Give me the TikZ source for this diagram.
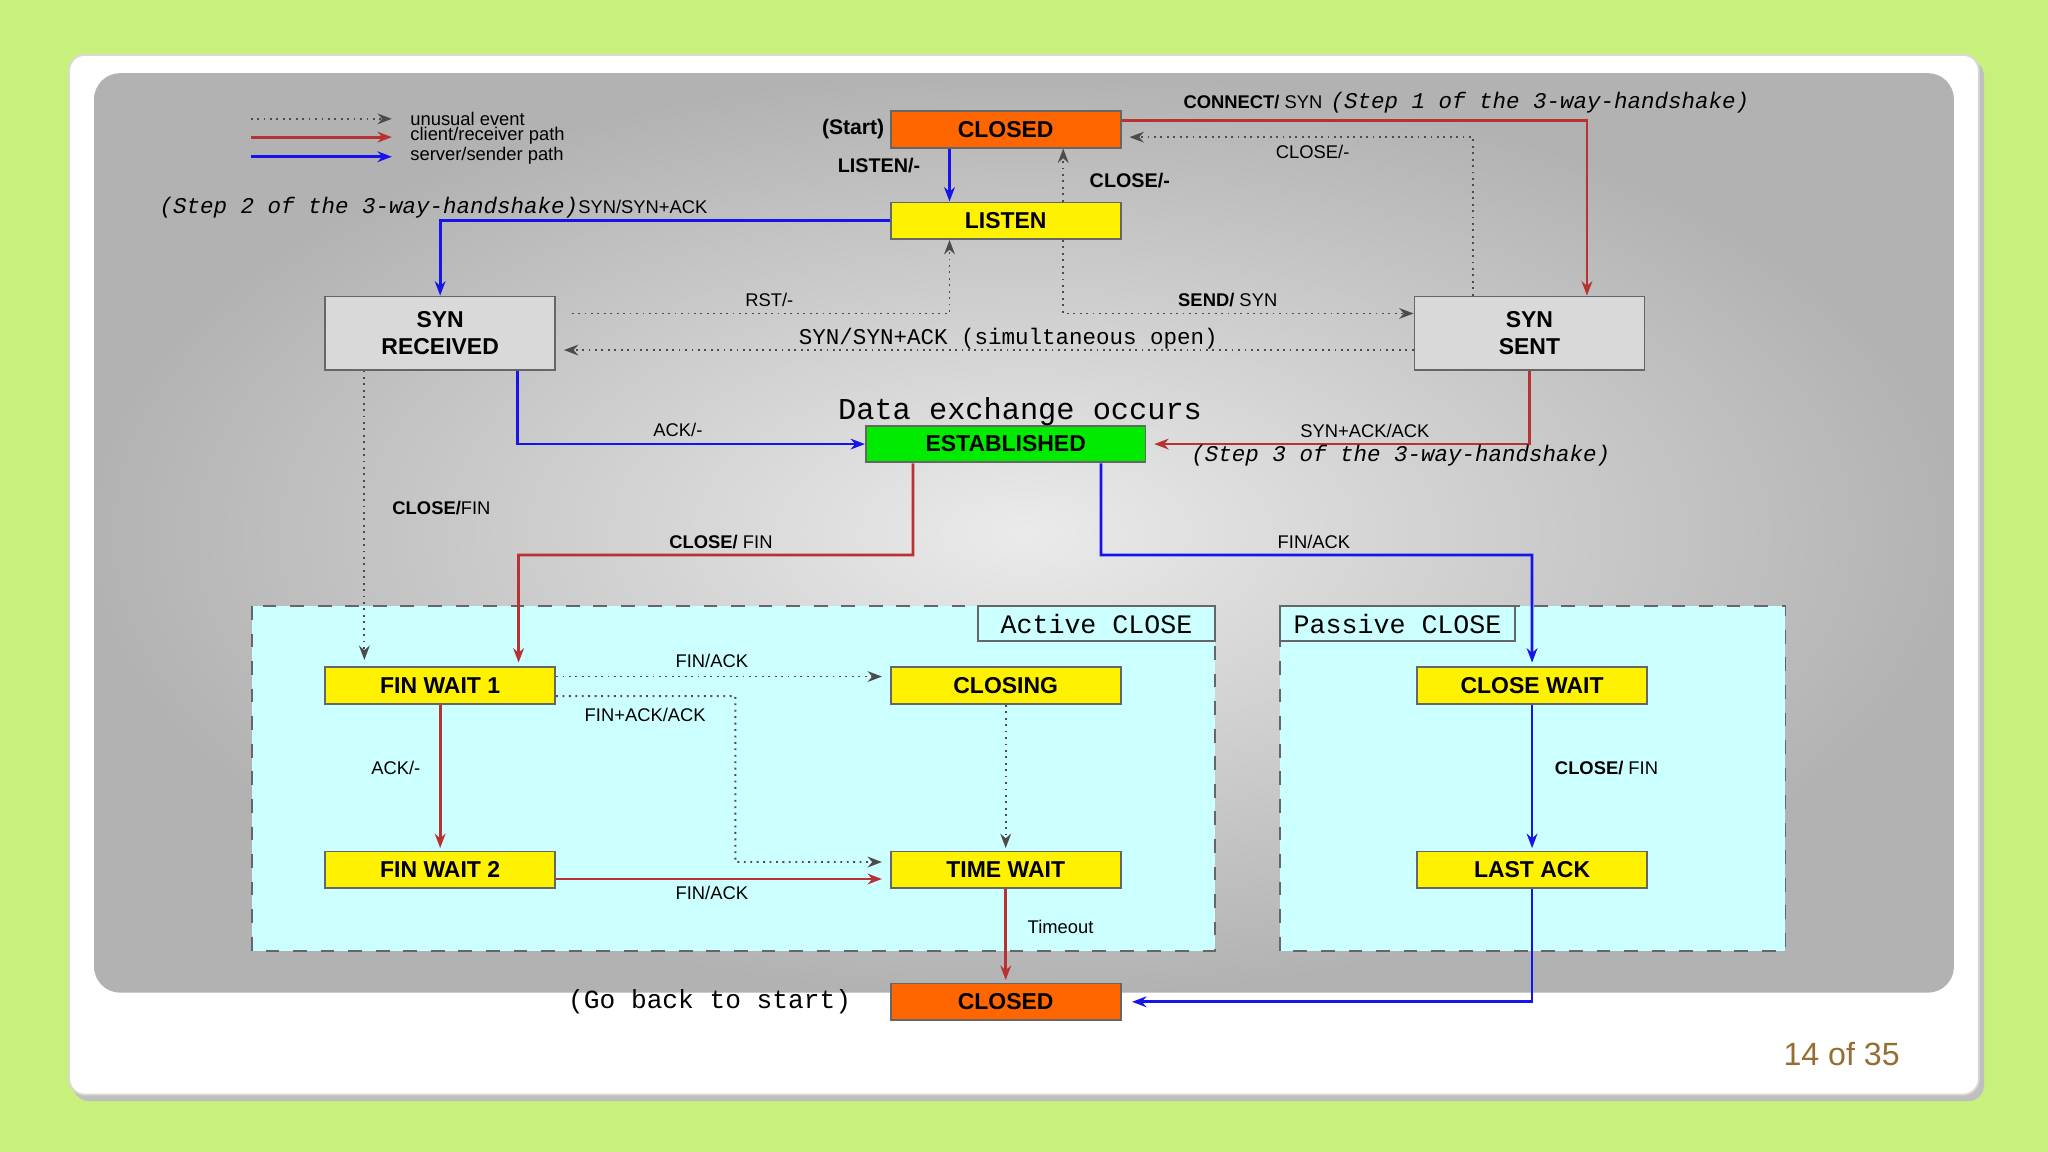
\documentclass[tikz,border=0pt]{standalone}
\usepackage{fontspec}
\setmainfont{Liberation Sans}
\newfontfamily\monof{Liberation Mono}
\usetikzlibrary{arrows.meta}
\definecolor{bggreen}{RGB}{200,240,124}
\definecolor{tcporange}{RGB}{255,102,0}
\definecolor{tcpgreen}{RGB}{0,235,0}
\definecolor{tcpred}{RGB}{185,50,50}
\definecolor{tcpblue}{RGB}{20,20,235}
\definecolor{boxcyan}{RGB}{204,255,255}
\definecolor{pagenum}{RGB}{150,110,50}
\tikzset{
  state/.style={draw=black!60, minimum width=1.76cm, minimum height=0.28cm, inner sep=0pt,
    font=\fontsize{5}{6}\selectfont\bfseries},
  lbl/.style={font=\fontsize{4}{5}\selectfont, inner sep=1pt},
  stepnote/.style={font=\fontsize{4.9}{5}\selectfont\monof\itshape, inner sep=1pt},
  unusual/.style={densely dotted, black!70, -{Stealth[length=1.1mm]}},
  client/.style={tcpred, semithick, -{Stealth[length=1.1mm]}},
  server/.style={tcpblue, semithick, -{Stealth[length=1.1mm]}}
}
\begin{document}
\begin{tikzpicture}[x=0.01cm, y=-0.01cm]
\useasboundingbox (0,0) rectangle (1568,882);
\fill[bggreen] (0,0) rectangle (1568,882);
% slide card
\fill[black!25, rounded corners=0.12cm] (56,46) rectangle (1519,843);
\fill[white, draw=black!15, rounded corners=0.12cm] (53,42) rectangle (1515,838);
\shade[rounded corners=0.2cm, inner color=white!92!black, outer color=black!30] (72,56) rectangle (1496,760);
\node[font=\fontsize{7}{8}\selectfont, text=pagenum] at (1410,807) {14 of 35};
% legend
\draw[unusual] (192,91) -- (300,91);
\draw[client] (192,105) -- (300,105);
\draw[server] (192,120) -- (300,120);
\node[lbl, anchor=west] at (310,91) {unusual event};
\node[lbl, anchor=west] at (310,104) {client/receiver path};
\node[lbl, anchor=west] at (310,119) {server/sender path};
% close regions
\fill[boxcyan] (193,464) rectangle (930,728);
\draw[dashed, black!60] (193,464) rectangle (930,728);
\fill[boxcyan] (980,464) rectangle (1367,728);
\draw[dashed, black!60] (980,464) rectangle (1367,728);
\node[draw=black!60, fill=boxcyan, minimum width=1.81cm, minimum height=0.27cm, inner sep=0pt,
  font=\fontsize{5.8}{6}\selectfont\monof] (actv) at (839.5,477.5) {Active CLOSE};
\node[draw=black!60, fill=boxcyan, minimum width=1.80cm, minimum height=0.27cm, inner sep=0pt,
  font=\fontsize{5.8}{6}\selectfont\monof] (pasv) at (1070,477.5) {Passive CLOSE};
% states
\node[state, fill=tcporange] (ctop) at (770,99) {CLOSED};
\node[state, fill=yellow] (listen) at (770,169) {LISTEN};
\node[state, fill=black!15, minimum height=0.56cm, align=center] (srecv) at (337,255) {SYN\\RECEIVED};
\node[state, fill=black!15, minimum height=0.56cm, align=center] (ssent) at (1171,255) {SYN\\SENT};
\node[state, fill=tcpgreen, minimum width=2.14cm] (est) at (770,340) {ESTABLISHED};
\node[state, fill=yellow] (fw1) at (337,525) {FIN WAIT 1};
\node[state, fill=yellow] (closing) at (770,525) {CLOSING};
\node[state, fill=yellow] (fw2) at (337,666) {FIN WAIT 2};
\node[state, fill=yellow] (twait) at (770,666) {TIME WAIT};
\node[state, fill=yellow] (cwait) at (1173,525) {CLOSE WAIT};
\node[state, fill=yellow] (lack) at (1173,666) {LAST ACK};
\node[state, fill=tcporange] (cbot) at (770,767) {CLOSED};
\node[lbl, font=\fontsize{4.6}{5}\selectfont\bfseries, anchor=east] (start) at (ctop.west) {(Start)};
\node[font=\fontsize{5.7}{6}\selectfont\monof, anchor=east] (goback) at (664,767) {(Go back to start)};
\node[font=\fontsize{6.6}{7}\selectfont\monof] (dataex) at (781,315) {Data exchange occurs};
\coordinate (fbend) at (563,533);
\coordinate (redbend) at (699,425);
\coordinate (bluebend) at (843,425);
% connectors
\draw[client] ([yshift=0.07cm]ctop.east) -| ([xshift=0.44cm]ssent.north);
\node[anchor=west, lbl] at (902,79) {\textbf{CONNECT/} SYN \,{\fontsize{4.9}{5}\selectfont\monof\itshape(Step 1 of the 3-way-handshake)}};
\draw[unusual] ([xshift=-0.43cm]ssent.north) |- ([yshift=-0.06cm,xshift=0.06cm]ctop.east);
\node[lbl] at (1005,116) {CLOSE/-};
\draw[server] ([xshift=-0.43cm]ctop.south) -- ([xshift=-0.43cm]listen.north);
\node[lbl, font=\fontsize{4.3}{5}\selectfont\bfseries] at (673,127) {LISTEN/-};
\draw[unusual] ([xshift=0.44cm]listen.north) -- ([xshift=0.44cm]ctop.south);
\node[lbl, font=\fontsize{4.3}{5}\selectfont\bfseries] at (865,138) {CLOSE/-};
\draw[server] (listen.west) -| (srecv.north);
\node[anchor=west, lbl] at (118,159) {{\fontsize{4.9}{5}\selectfont\monof\itshape(Step 2 of the 3-way-handshake)}SYN/SYN+ACK};
\draw[unusual, shorten <=0.12cm] ([yshift=0.15cm]srecv.east) -| ([xshift=-0.43cm]listen.south);
\node[lbl] at (589,230) {RST/-};
\draw[unusual] ([xshift=0.44cm]listen.south) |- ([yshift=0.15cm]ssent.west);
\node[lbl] at (940,230) {\textbf{SEND/} SYN};
\draw[unusual, shorten >=0.06cm] ([yshift=-0.13cm]ssent.west) -- ([yshift=-0.13cm]srecv.east);
\node[lbl, font=\fontsize{4.9}{5}\selectfont\monof] at (772,259) {SYN/SYN+ACK (simultaneous open)};
\draw[server] ([xshift=0.59cm]srecv.south) |- (est.west);
\node[lbl] at (519,329) {ACK/-};
\draw[client] (ssent.south) |- ([xshift=0.06cm]est.east);
\node[lbl] at (1045,330) {SYN+ACK/ACK};
\node[stepnote, anchor=west] at (908,349) {(Step 3 of the 3-way-handshake)};
\draw[unusual] ([xshift=-0.58cm]srecv.south) -- ([xshift=-0.58cm,yshift=0.05cm]fw1.north);
\node[lbl] at (338,389) {\textbf{CLOSE/}FIN};
\draw[client] ([xshift=-0.71cm]est.south) -- (redbend) -| ([xshift=0.6cm,yshift=0.03cm]fw1.north);
\node[lbl] at (552,415) {\textbf{CLOSE/} FIN};
\draw[server] ([xshift=0.73cm]est.south) -- (bluebend) -| ([yshift=0.03cm]cwait.north);
\node[lbl] at (1006,415) {FIN/ACK};
\draw[unusual, shorten >=0.06cm] ([yshift=0.07cm]fw1.east) -- ([yshift=0.07cm]closing.west);
\node[lbl] at (545,506) {FIN/ACK};
\draw[unusual, shorten >=0.06cm] ([yshift=-0.08cm]fw1.east) -- (fbend) |- ([yshift=0.06cm]twait.west);
\node[lbl] at (494,547) {FIN+ACK/ACK};
\draw[client] (fw1.south) -- ([yshift=0.02cm]fw2.north);
\node[lbl] at (303,588) {ACK/-};
\draw[unusual] (closing.south) -- ([yshift=0.02cm]twait.north);
\draw[client, shorten >=0.06cm] ([yshift=-0.07cm]fw2.east) -- ([yshift=-0.07cm]twait.west);
\node[lbl] at (545,684) {FIN/ACK};
\draw[client] (twait.south) -- ([yshift=0.02cm]cbot.north);
\node[lbl] at (812,710) {Timeout};
\draw[server] (cwait.south) -- ([yshift=0.02cm]lack.north);
\node[lbl] at (1230,588) {\textbf{CLOSE/} FIN};
\draw[server, shorten >=0.08cm] (lack.south) |- (cbot.east);
\end{tikzpicture}
\end{document}
